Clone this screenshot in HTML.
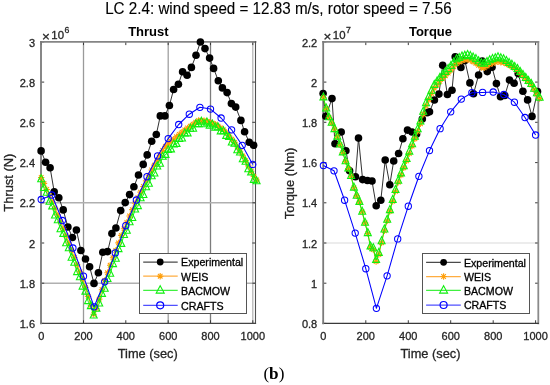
<!DOCTYPE html>
<html><head><meta charset="utf-8"><title>LC 2.4</title>
<style>html,body{margin:0;padding:0;background:#fff;}body{width:550px;height:385px;overflow:hidden;}svg{display:block;}
</style></head>
<body>
<svg width="550" height="385" viewBox="0 0 550 385">
<rect width="550" height="385" fill="#fff"/>
<line x1="83.5" y1="41.9" x2="83.5" y2="323.45" stroke="#9a9a9a" stroke-width="1.3"/>
<line x1="168.2" y1="41.9" x2="168.2" y2="323.45" stroke="#a0a0a0" stroke-width="1.3"/>
<line x1="210.5" y1="41.9" x2="210.5" y2="323.45" stroke="#7c7c7c" stroke-width="1.3"/>
<line x1="252.8" y1="41.9" x2="252.8" y2="323.45" stroke="#b5b5b5" stroke-width="1.3"/>
<line x1="41.0" y1="202.8" x2="255.5" y2="202.8" stroke="#b0b0b0" stroke-width="1.5"/>
<line x1="41.0" y1="283.2" x2="255.5" y2="283.2" stroke="#b0b0b0" stroke-width="1.5"/>
<line x1="41.2" y1="323.45" x2="41.2" y2="320.25" stroke="#3a3a3a" stroke-width="1"/>
<line x1="41.2" y1="41.9" x2="41.2" y2="45.1" stroke="#3a3a3a" stroke-width="1"/>
<line x1="83.5" y1="323.45" x2="83.5" y2="320.25" stroke="#3a3a3a" stroke-width="1"/>
<line x1="83.5" y1="41.9" x2="83.5" y2="45.1" stroke="#3a3a3a" stroke-width="1"/>
<line x1="125.8" y1="323.45" x2="125.8" y2="320.25" stroke="#3a3a3a" stroke-width="1"/>
<line x1="125.8" y1="41.9" x2="125.8" y2="45.1" stroke="#3a3a3a" stroke-width="1"/>
<line x1="168.2" y1="323.45" x2="168.2" y2="320.25" stroke="#3a3a3a" stroke-width="1"/>
<line x1="168.2" y1="41.9" x2="168.2" y2="45.1" stroke="#3a3a3a" stroke-width="1"/>
<line x1="210.5" y1="323.45" x2="210.5" y2="320.25" stroke="#3a3a3a" stroke-width="1"/>
<line x1="210.5" y1="41.9" x2="210.5" y2="45.1" stroke="#3a3a3a" stroke-width="1"/>
<line x1="252.8" y1="323.45" x2="252.8" y2="320.25" stroke="#3a3a3a" stroke-width="1"/>
<line x1="252.8" y1="41.9" x2="252.8" y2="45.1" stroke="#3a3a3a" stroke-width="1"/>
<line x1="41.0" y1="323.4" x2="44.2" y2="323.4" stroke="#3a3a3a" stroke-width="1"/>
<line x1="255.5" y1="323.4" x2="252.3" y2="323.4" stroke="#3a3a3a" stroke-width="1"/>
<line x1="41.0" y1="283.2" x2="44.2" y2="283.2" stroke="#3a3a3a" stroke-width="1"/>
<line x1="255.5" y1="283.2" x2="252.3" y2="283.2" stroke="#3a3a3a" stroke-width="1"/>
<line x1="41.0" y1="243" x2="44.2" y2="243" stroke="#3a3a3a" stroke-width="1"/>
<line x1="255.5" y1="243" x2="252.3" y2="243" stroke="#3a3a3a" stroke-width="1"/>
<line x1="41.0" y1="202.8" x2="44.2" y2="202.8" stroke="#3a3a3a" stroke-width="1"/>
<line x1="255.5" y1="202.8" x2="252.3" y2="202.8" stroke="#3a3a3a" stroke-width="1"/>
<line x1="41.0" y1="162.6" x2="44.2" y2="162.6" stroke="#3a3a3a" stroke-width="1"/>
<line x1="255.5" y1="162.6" x2="252.3" y2="162.6" stroke="#3a3a3a" stroke-width="1"/>
<line x1="41.0" y1="122.3" x2="44.2" y2="122.3" stroke="#3a3a3a" stroke-width="1"/>
<line x1="255.5" y1="122.3" x2="252.3" y2="122.3" stroke="#3a3a3a" stroke-width="1"/>
<line x1="41.0" y1="82.1" x2="44.2" y2="82.1" stroke="#3a3a3a" stroke-width="1"/>
<line x1="255.5" y1="82.1" x2="252.3" y2="82.1" stroke="#3a3a3a" stroke-width="1"/>
<line x1="41.0" y1="41.9" x2="44.2" y2="41.9" stroke="#3a3a3a" stroke-width="1"/>
<line x1="255.5" y1="41.9" x2="252.3" y2="41.9" stroke="#3a3a3a" stroke-width="1"/>
<line x1="41" y1="41.9" x2="255.5" y2="41.9" stroke="#858585" stroke-width="1.8" stroke-linecap="square"/>
<line x1="255.5" y1="41.9" x2="255.5" y2="323.4" stroke="#505050" stroke-width="1.1" stroke-linecap="square"/>
<line x1="41" y1="323.4" x2="255.5" y2="323.4" stroke="#454545" stroke-width="1.2" stroke-linecap="square"/>
<line x1="41" y1="41.9" x2="41" y2="323.4" stroke="#7a7a7a" stroke-width="1.8" stroke-linecap="square"/>
<line x1="323.2" y1="243" x2="538.3" y2="243" stroke="#e6e6e6" stroke-width="1.5"/>
<line x1="323.4" y1="323.45" x2="323.4" y2="320.25" stroke="#3a3a3a" stroke-width="1"/>
<line x1="323.4" y1="41.9" x2="323.4" y2="45.1" stroke="#3a3a3a" stroke-width="1"/>
<line x1="365.8" y1="323.45" x2="365.8" y2="320.25" stroke="#3a3a3a" stroke-width="1"/>
<line x1="365.8" y1="41.9" x2="365.8" y2="45.1" stroke="#3a3a3a" stroke-width="1"/>
<line x1="408.3" y1="323.45" x2="408.3" y2="320.25" stroke="#3a3a3a" stroke-width="1"/>
<line x1="408.3" y1="41.9" x2="408.3" y2="45.1" stroke="#3a3a3a" stroke-width="1"/>
<line x1="450.7" y1="323.45" x2="450.7" y2="320.25" stroke="#3a3a3a" stroke-width="1"/>
<line x1="450.7" y1="41.9" x2="450.7" y2="45.1" stroke="#3a3a3a" stroke-width="1"/>
<line x1="493.2" y1="323.45" x2="493.2" y2="320.25" stroke="#3a3a3a" stroke-width="1"/>
<line x1="493.2" y1="41.9" x2="493.2" y2="45.1" stroke="#3a3a3a" stroke-width="1"/>
<line x1="535.6" y1="323.45" x2="535.6" y2="320.25" stroke="#3a3a3a" stroke-width="1"/>
<line x1="535.6" y1="41.9" x2="535.6" y2="45.1" stroke="#3a3a3a" stroke-width="1"/>
<line x1="323.2" y1="323.4" x2="326.4" y2="323.4" stroke="#3a3a3a" stroke-width="1"/>
<line x1="538.3" y1="323.4" x2="535.0999999999999" y2="323.4" stroke="#3a3a3a" stroke-width="1"/>
<line x1="323.2" y1="283.2" x2="326.4" y2="283.2" stroke="#3a3a3a" stroke-width="1"/>
<line x1="538.3" y1="283.2" x2="535.0999999999999" y2="283.2" stroke="#3a3a3a" stroke-width="1"/>
<line x1="323.2" y1="243" x2="326.4" y2="243" stroke="#3a3a3a" stroke-width="1"/>
<line x1="538.3" y1="243" x2="535.0999999999999" y2="243" stroke="#3a3a3a" stroke-width="1"/>
<line x1="323.2" y1="202.8" x2="326.4" y2="202.8" stroke="#3a3a3a" stroke-width="1"/>
<line x1="538.3" y1="202.8" x2="535.0999999999999" y2="202.8" stroke="#3a3a3a" stroke-width="1"/>
<line x1="323.2" y1="162.6" x2="326.4" y2="162.6" stroke="#3a3a3a" stroke-width="1"/>
<line x1="538.3" y1="162.6" x2="535.0999999999999" y2="162.6" stroke="#3a3a3a" stroke-width="1"/>
<line x1="323.2" y1="122.3" x2="326.4" y2="122.3" stroke="#3a3a3a" stroke-width="1"/>
<line x1="538.3" y1="122.3" x2="535.0999999999999" y2="122.3" stroke="#3a3a3a" stroke-width="1"/>
<line x1="323.2" y1="82.1" x2="326.4" y2="82.1" stroke="#3a3a3a" stroke-width="1"/>
<line x1="538.3" y1="82.1" x2="535.0999999999999" y2="82.1" stroke="#3a3a3a" stroke-width="1"/>
<line x1="323.2" y1="41.9" x2="326.4" y2="41.9" stroke="#3a3a3a" stroke-width="1"/>
<line x1="538.3" y1="41.9" x2="535.0999999999999" y2="41.9" stroke="#3a3a3a" stroke-width="1"/>
<line x1="323.2" y1="41.9" x2="538.3" y2="41.9" stroke="#858585" stroke-width="1.8" stroke-linecap="square"/>
<line x1="538.3" y1="41.9" x2="538.3" y2="323.4" stroke="#8a8a8a" stroke-width="1.8" stroke-linecap="square"/>
<line x1="323.2" y1="323.4" x2="538.3" y2="323.4" stroke="#3a3a3a" stroke-width="1.2" stroke-linecap="square"/>
<line x1="323.2" y1="41.9" x2="323.2" y2="323.4" stroke="#7a7a7a" stroke-width="1.8" stroke-linecap="square"/>
<g>
<polyline fill="none" stroke="#1a1a1a" stroke-width="0.9" stroke-linejoin="round" points="41.1,150.9 45.6,162.3 50.1,167.8 54.2,191.7 58.8,197.7 63.2,209.9 67.9,227 72.4,237.5 76.4,230 80.9,250.5 85.5,259 89.6,266.7 94,283.4 98.4,272.8 102.8,252.2 107.6,251.6 111.9,233.6 115.9,228 120.7,210.6 125.2,202.6 129.6,194.6 133.9,186.8 138.5,175 143.2,164.4 147.2,154.9 151.7,141.3 156.3,134.5 160.3,115.9 164.9,115.9 169.4,105.5 173.6,89.5 178.4,84.3 182.6,71.7 187.1,75.3 191.4,67.4 196,55.3 200.4,42 205,48.6 209.6,58.1 213.6,68.4 218.3,80.7 222.4,87.9 227.1,92.6 231.4,103.6 235.7,107.1 240.9,120.4 244.6,131.8 249.2,142.2 253.6,145.3"/>
<g fill="#000"><circle cx="41.1" cy="150.9" r="3.8"/><circle cx="45.6" cy="162.3" r="3.8"/><circle cx="50.1" cy="167.8" r="3.8"/><circle cx="54.2" cy="191.7" r="3.8"/><circle cx="58.8" cy="197.7" r="3.8"/><circle cx="63.2" cy="209.9" r="3.8"/><circle cx="67.9" cy="227" r="3.8"/><circle cx="72.4" cy="237.5" r="3.8"/><circle cx="76.4" cy="230" r="3.8"/><circle cx="80.9" cy="250.5" r="3.8"/><circle cx="85.5" cy="259" r="3.8"/><circle cx="89.6" cy="266.7" r="3.8"/><circle cx="94" cy="283.4" r="3.8"/><circle cx="98.4" cy="272.8" r="3.8"/><circle cx="102.8" cy="252.2" r="3.8"/><circle cx="107.6" cy="251.6" r="3.8"/><circle cx="111.9" cy="233.6" r="3.8"/><circle cx="115.9" cy="228" r="3.8"/><circle cx="120.7" cy="210.6" r="3.8"/><circle cx="125.2" cy="202.6" r="3.8"/><circle cx="129.6" cy="194.6" r="3.8"/><circle cx="133.9" cy="186.8" r="3.8"/><circle cx="138.5" cy="175" r="3.8"/><circle cx="143.2" cy="164.4" r="3.8"/><circle cx="147.2" cy="154.9" r="3.8"/><circle cx="151.7" cy="141.3" r="3.8"/><circle cx="156.3" cy="134.5" r="3.8"/><circle cx="160.3" cy="115.9" r="3.8"/><circle cx="164.9" cy="115.9" r="3.8"/><circle cx="169.4" cy="105.5" r="3.8"/><circle cx="173.6" cy="89.5" r="3.8"/><circle cx="178.4" cy="84.3" r="3.8"/><circle cx="182.6" cy="71.7" r="3.8"/><circle cx="187.1" cy="75.3" r="3.8"/><circle cx="191.4" cy="67.4" r="3.8"/><circle cx="196" cy="55.3" r="3.8"/><circle cx="200.4" cy="42" r="3.8"/><circle cx="205" cy="48.6" r="3.8"/><circle cx="209.6" cy="58.1" r="3.8"/><circle cx="213.6" cy="68.4" r="3.8"/><circle cx="218.3" cy="80.7" r="3.8"/><circle cx="222.4" cy="87.9" r="3.8"/><circle cx="227.1" cy="92.6" r="3.8"/><circle cx="231.4" cy="103.6" r="3.8"/><circle cx="235.7" cy="107.1" r="3.8"/><circle cx="240.9" cy="120.4" r="3.8"/><circle cx="244.6" cy="131.8" r="3.8"/><circle cx="249.2" cy="142.2" r="3.8"/><circle cx="253.6" cy="145.3" r="3.8"/></g>
<polyline fill="none" stroke="#ff9f0a" stroke-width="1" stroke-linejoin="round" points="41.2,177.5 44,183.4 46.7,189.5 49.5,195.6 52.2,201.7 55,208.1 57.8,214.9 60.5,221.8 63.3,228.6 66.1,235.8 68.8,243 71.6,250.2 74.3,257.5 77.1,264.7 79.9,271.9 82.6,279.2 85.4,287.4 88.1,296.4 90.9,305.3 93.7,314.2 96.4,308.5 99.2,299.1 102,289.7 104.7,280.4 107.5,272.8 110.2,265.3 113,257.8 115.8,250.4 118.5,242.9 121.3,235.4 124,228.8 126.8,222.4 129.6,216 132.3,209.6 135.1,203.3 137.9,197.7 140.6,192.1 143.4,186.5 146.1,180.9 148.9,175.3 151.7,170 154.4,165.1 157.2,160.2 160,155.4 162.7,150.5 165.5,146.4 168.2,143.7 171,141.4 173.8,139.1 176.5,136.8 179.3,134.5 182,132.2 184.8,130 187.6,128.1 190.3,126.2 193.1,124.2 195.9,122.3 198.6,120.4 201.4,120.5 204.1,120.7 206.9,121.4 209.7,122.3 212.4,123.2 215.2,124.1 217.9,126.1 220.7,128 223.5,129.9 226.2,132.5 229,135.8 231.8,139.1 234.5,142.4 237.3,146.8 240,151.3 242.8,155.9 245.6,160.6 248.3,165.9 251.1,171.2 253.8,176.4 256.6,180"/>
<g fill="none" stroke="#ff9f0a" stroke-width="1.1"><path d="M41.2 174.3V180.7M38 177.5H44.4M38.9 175.2L43.5 179.8M38.9 179.8L43.5 175.2"/><path d="M44 180.2V186.6M40.8 183.4H47.2M41.7 181.1L46.3 185.7M41.7 185.7L46.3 181.1"/><path d="M46.7 186.3V192.7M43.5 189.5H49.9M44.4 187.2L49 191.8M44.4 191.8L49 187.2"/><path d="M49.5 192.4V198.8M46.3 195.6H52.7M47.2 193.3L51.8 197.9M47.2 197.9L51.8 193.3"/><path d="M52.2 198.5V204.9M49 201.7H55.4M49.9 199.4L54.6 204M49.9 204L54.6 199.4"/><path d="M55 204.9V211.3M51.8 208.1H58.2M52.7 205.8L57.3 210.4M52.7 210.4L57.3 205.8"/><path d="M57.8 211.7V218.1M54.6 214.9H61M55.5 212.6L60.1 217.2M55.5 217.2L60.1 212.6"/><path d="M60.5 218.6V225M57.3 221.8H63.7M58.2 219.5L62.8 224.1M58.2 224.1L62.8 219.5"/><path d="M63.3 225.4V231.8M60.1 228.6H66.5M61 226.3L65.6 231M61 231L65.6 226.3"/><path d="M66.1 232.6V239M62.9 235.8H69.3M63.8 233.5L68.4 238.1M63.8 238.1L68.4 233.5"/><path d="M68.8 239.8V246.2M65.6 243H72M66.5 240.7L71.1 245.3M66.5 245.3L71.1 240.7"/><path d="M71.6 247V253.4M68.4 250.2H74.8M69.3 247.9L73.9 252.5M69.3 252.5L73.9 247.9"/><path d="M74.3 254.3V260.7M71.1 257.5H77.5M72 255.2L76.6 259.8M72 259.8L76.6 255.2"/><path d="M77.1 261.5V267.9M73.9 264.7H80.3M74.8 262.4L79.4 267M74.8 267L79.4 262.4"/><path d="M79.9 268.7V275.1M76.7 271.9H83.1M77.6 269.6L82.2 274.2M77.6 274.2L82.2 269.6"/><path d="M82.6 276V282.4M79.4 279.2H85.8M80.3 276.9L84.9 281.5M80.3 281.5L84.9 276.9"/><path d="M85.4 284.2V290.6M82.2 287.4H88.6M83.1 285.1L87.7 289.8M83.1 289.8L87.7 285.1"/><path d="M88.1 293.2V299.6M84.9 296.4H91.3M85.8 294.1L90.5 298.7M85.8 298.7L90.5 294.1"/><path d="M90.9 302.1V308.5M87.7 305.3H94.1M88.6 303L93.2 307.6M88.6 307.6L93.2 303"/><path d="M93.7 311V317.4M90.5 314.2H96.9M91.4 311.9L96 316.5M91.4 316.5L96 311.9"/><path d="M96.4 305.3V311.7M93.2 308.5H99.6M94.1 306.2L98.7 310.8M94.1 310.8L98.7 306.2"/><path d="M99.2 295.9V302.3M96 299.1H102.4M96.9 296.8L101.5 301.4M96.9 301.4L101.5 296.8"/><path d="M102 286.5V292.9M98.8 289.7H105.2M99.7 287.4L104.3 292M99.7 292L104.3 287.4"/><path d="M104.7 277.2V283.6M101.5 280.4H107.9M102.4 278.1L107 282.7M102.4 282.7L107 278.1"/><path d="M107.5 269.6V276M104.3 272.8H110.7M105.2 270.5L109.8 275.1M105.2 275.1L109.8 270.5"/><path d="M110.2 262.1V268.5M107 265.3H113.4M107.9 263L112.5 267.6M107.9 267.6L112.5 263"/><path d="M113 254.6V261M109.8 257.8H116.2M110.7 255.5L115.3 260.1M110.7 260.1L115.3 255.5"/><path d="M115.8 247.2V253.6M112.6 250.4H119M113.5 248.1L118.1 252.7M113.5 252.7L118.1 248.1"/><path d="M118.5 239.7V246.1M115.3 242.9H121.7M116.2 240.6L120.8 245.2M116.2 245.2L120.8 240.6"/><path d="M121.3 232.2V238.6M118.1 235.4H124.5M119 233.1L123.6 237.7M119 237.7L123.6 233.1"/><path d="M124 225.6V232M120.8 228.8H127.2M121.7 226.5L126.4 231.1M121.7 231.1L126.4 226.5"/><path d="M126.8 219.2V225.6M123.6 222.4H130M124.5 220.1L129.1 224.7M124.5 224.7L129.1 220.1"/><path d="M129.6 212.8V219.2M126.4 216H132.8M127.3 213.7L131.9 218.3M127.3 218.3L131.9 213.7"/><path d="M132.3 206.4V212.8M129.1 209.6H135.5M130 207.3L134.6 211.9M130 211.9L134.6 207.3"/><path d="M135.1 200.1V206.5M131.9 203.3H138.3M132.8 201L137.4 205.6M132.8 205.6L137.4 201"/><path d="M137.9 194.5V200.9M134.7 197.7H141.1M135.6 195.4L140.2 200M135.6 200L140.2 195.4"/><path d="M140.6 188.9V195.3M137.4 192.1H143.8M138.3 189.8L142.9 194.4M138.3 194.4L142.9 189.8"/><path d="M143.4 183.3V189.7M140.2 186.5H146.6M141.1 184.2L145.7 188.8M141.1 188.8L145.7 184.2"/><path d="M146.1 177.7V184.1M142.9 180.9H149.3M143.8 178.6L148.4 183.2M143.8 183.2L148.4 178.6"/><path d="M148.9 172.1V178.5M145.7 175.3H152.1M146.6 173L151.2 177.6M146.6 177.6L151.2 173"/><path d="M151.7 166.8V173.2M148.5 170H154.9M149.4 167.7L154 172.3M149.4 172.3L154 167.7"/><path d="M154.4 161.9V168.3M151.2 165.1H157.6M152.1 162.8L156.7 167.4M152.1 167.4L156.7 162.8"/><path d="M157.2 157V163.4M154 160.2H160.4M154.9 157.9L159.5 162.5M154.9 162.5L159.5 157.9"/><path d="M160 152.2V158.6M156.8 155.4H163.2M157.6 153L162.3 157.7M157.6 157.7L162.3 153"/><path d="M162.7 147.3V153.7M159.5 150.5H165.9M160.4 148.2L165 152.8M160.4 152.8L165 148.2"/><path d="M165.5 143.2V149.6M162.3 146.4H168.7M163.2 144.1L167.8 148.7M163.2 148.7L167.8 144.1"/><path d="M168.2 140.5V146.9M165 143.7H171.4M165.9 141.4L170.5 146M165.9 146L170.5 141.4"/><path d="M171 138.2V144.6M167.8 141.4H174.2M168.7 139L173.3 143.7M168.7 143.7L173.3 139"/><path d="M173.8 135.9V142.3M170.6 139.1H177M171.5 136.8L176.1 141.4M171.5 141.4L176.1 136.8"/><path d="M176.5 133.6V140M173.3 136.8H179.7M174.2 134.5L178.8 139.1M174.2 139.1L178.8 134.5"/><path d="M179.3 131.3V137.7M176.1 134.5H182.5M177 132.2L181.6 136.8M177 136.8L181.6 132.2"/><path d="M182 129V135.4M178.8 132.2H185.2M179.7 129.9L184.3 134.5M179.7 134.5L184.3 129.9"/><path d="M184.8 126.8V133.2M181.6 130H188M182.5 127.6L187.1 132.3M182.5 132.3L187.1 127.6"/><path d="M187.6 124.9V131.3M184.4 128.1H190.8M185.3 125.7L189.9 130.4M185.3 130.4L189.9 125.7"/><path d="M190.3 123V129.4M187.1 126.2H193.5M188 123.9L192.6 128.5M188 128.5L192.6 123.9"/><path d="M193.1 121V127.4M189.9 124.2H196.3M190.8 121.9L195.4 126.5M190.8 126.5L195.4 121.9"/><path d="M195.9 119.1V125.5M192.7 122.3H199.1M193.5 120L198.2 124.6M193.5 124.6L198.2 120"/><path d="M198.6 117.2V123.6M195.4 120.4H201.8M196.3 118.1L200.9 122.7M196.3 122.7L200.9 118.1"/><path d="M201.4 117.3V123.7M198.2 120.5H204.6M199.1 118.2L203.7 122.8M199.1 122.8L203.7 118.2"/><path d="M204.1 117.5V123.9M200.9 120.7H207.3M201.8 118.4L206.4 123M201.8 123L206.4 118.4"/><path d="M206.9 118.2V124.6M203.7 121.4H210.1M204.6 119.1L209.2 123.7M204.6 123.7L209.2 119.1"/><path d="M209.7 119.1V125.5M206.5 122.3H212.9M207.4 120L212 124.6M207.4 124.6L212 120"/><path d="M212.4 120V126.4M209.2 123.2H215.6M210.1 120.9L214.7 125.5M210.1 125.5L214.7 120.9"/><path d="M215.2 120.9V127.3M212 124.1H218.4M212.9 121.8L217.5 126.4M212.9 126.4L217.5 121.8"/><path d="M217.9 122.9V129.3M214.7 126.1H221.1M215.6 123.8L220.2 128.4M215.6 128.4L220.2 123.8"/><path d="M220.7 124.8V131.2M217.5 128H223.9M218.4 125.7L223 130.3M218.4 130.3L223 125.7"/><path d="M223.5 126.7V133.1M220.3 129.9H226.7M221.2 127.6L225.8 132.2M221.2 132.2L225.8 127.6"/><path d="M226.2 129.3V135.7M223 132.5H229.4M223.9 130.2L228.5 134.8M223.9 134.8L228.5 130.2"/><path d="M229 132.6V139M225.8 135.8H232.2M226.7 133.5L231.3 138.1M226.7 138.1L231.3 133.5"/><path d="M231.8 135.9V142.3M228.6 139.1H235M229.4 136.8L234.1 141.4M229.4 141.4L234.1 136.8"/><path d="M234.5 139.2V145.6M231.3 142.4H237.7M232.2 140.1L236.8 144.7M232.2 144.7L236.8 140.1"/><path d="M237.3 143.6V150M234.1 146.8H240.5M235 144.5L239.6 149.1M235 149.1L239.6 144.5"/><path d="M240 148.1V154.5M236.8 151.3H243.2M237.7 149L242.3 153.6M237.7 153.6L242.3 149"/><path d="M242.8 152.7V159.1M239.6 155.9H246M240.5 153.6L245.1 158.2M240.5 158.2L245.1 153.6"/><path d="M245.6 157.4V163.8M242.4 160.6H248.8M243.3 158.3L247.9 162.9M243.3 162.9L247.9 158.3"/><path d="M248.3 162.7V169.1M245.1 165.9H251.5M246 163.6L250.6 168.2M246 168.2L250.6 163.6"/><path d="M251.1 168V174.4M247.9 171.2H254.3M248.8 168.8L253.4 173.5M248.8 173.5L253.4 168.8"/><path d="M253.8 173.2V179.6M250.6 176.4H257M251.5 174.1L256.2 178.7M251.5 178.7L256.2 174.1"/><path d="M256.6 176.8V183.2M253.4 180H259.8M254.3 177.7L258.9 182.3M254.3 182.3L258.9 177.7"/></g>
<polyline fill="none" stroke="#0ff00f" stroke-width="1" stroke-linejoin="round" points="41.2,179.4 44,188.2 46.7,192.9 49.5,201.9 52.2,206.6 55,215.7 57.8,220.3 60.5,229.4 63.3,234 66.1,243.4 68.8,248.4 71.6,257.8 74.3,262.9 77.1,272.3 79.9,277.3 82.6,286.8 85.4,291.8 88.1,301.2 90.9,306.3 93.7,315.7 96.4,308.9 99.2,303.7 102,294 104.7,288.8 107.5,279.2 110.2,273.9 113,264.2 115.8,259 118.5,249.3 121.3,244 124,235.2 126.8,231 129.6,222.4 132.3,218.2 135.1,209.7 137.9,206.3 140.6,198.5 143.4,195.1 146.1,187.3 148.9,183.9 151.7,176.4 154.4,173.7 157.2,166.6 160,164 162.7,156.9 165.5,155 168.2,150.1 171,149.6 173.8,144.6 176.5,144.1 179.3,139.2 182,138.6 184.8,133.7 187.6,133.5 190.3,129 193.1,128.9 195.9,124.4 198.6,124.2 201.4,121.9 204.1,124.3 206.9,122.8 209.7,125.9 212.4,124.6 215.2,127.7 217.9,127.5 220.7,131.6 223.5,131.3 226.2,136.1 229,137.2 231.8,142.7 234.5,143.8 237.3,150.4 240,152.7 242.8,159.5 245.6,162 248.3,169.5 251.1,172.6 253.8,180 256.6,181.4"/>
<g fill="none" stroke="#0ff00f" stroke-width="1.1"><path d="M41.2 174.7L44.7 181.7L37.7 181.7Z"/><path d="M44 183.5L47.5 190.5L40.5 190.5Z"/><path d="M46.7 188.2L50.2 195.2L43.2 195.2Z"/><path d="M49.5 197.3L53 204.3L46 204.3Z"/><path d="M52.2 201.9L55.7 208.9L48.7 208.9Z"/><path d="M55 211L58.5 218L51.5 218Z"/><path d="M57.8 215.7L61.3 222.7L54.3 222.7Z"/><path d="M60.5 224.7L64 231.7L57 231.7Z"/><path d="M63.3 229.4L66.8 236.4L59.8 236.4Z"/><path d="M66.1 238.7L69.6 245.7L62.6 245.7Z"/><path d="M68.8 243.7L72.3 250.7L65.3 250.7Z"/><path d="M71.6 253.2L75.1 260.2L68.1 260.2Z"/><path d="M74.3 258.2L77.8 265.2L70.8 265.2Z"/><path d="M77.1 267.6L80.6 274.6L73.6 274.6Z"/><path d="M79.9 272.7L83.4 279.7L76.4 279.7Z"/><path d="M82.6 282.1L86.1 289.1L79.1 289.1Z"/><path d="M85.4 287.1L88.9 294.1L81.9 294.1Z"/><path d="M88.1 296.6L91.6 303.6L84.6 303.6Z"/><path d="M90.9 301.6L94.4 308.6L87.4 308.6Z"/><path d="M93.7 311L97.2 318L90.2 318Z"/><path d="M96.4 304.2L99.9 311.2L92.9 311.2Z"/><path d="M99.2 299L102.7 306L95.7 306Z"/><path d="M102 289.4L105.5 296.4L98.5 296.4Z"/><path d="M104.7 284.2L108.2 291.2L101.2 291.2Z"/><path d="M107.5 274.5L111 281.5L104 281.5Z"/><path d="M110.2 269.2L113.7 276.2L106.7 276.2Z"/><path d="M113 259.6L116.5 266.6L109.5 266.6Z"/><path d="M115.8 254.3L119.3 261.3L112.3 261.3Z"/><path d="M118.5 244.6L122 251.6L115 251.6Z"/><path d="M121.3 239.4L124.8 246.4L117.8 246.4Z"/><path d="M124 230.5L127.5 237.5L120.5 237.5Z"/><path d="M126.8 226.3L130.3 233.3L123.3 233.3Z"/><path d="M129.6 217.7L133.1 224.7L126.1 224.7Z"/><path d="M132.3 213.5L135.8 220.5L128.8 220.5Z"/><path d="M135.1 205L138.6 212L131.6 212Z"/><path d="M137.9 201.6L141.4 208.6L134.4 208.6Z"/><path d="M140.6 193.8L144.1 200.8L137.1 200.8Z"/><path d="M143.4 190.5L146.9 197.5L139.9 197.5Z"/><path d="M146.1 182.7L149.6 189.7L142.6 189.7Z"/><path d="M148.9 179.3L152.4 186.3L145.4 186.3Z"/><path d="M151.7 171.7L155.2 178.7L148.2 178.7Z"/><path d="M154.4 169L157.9 176L150.9 176Z"/><path d="M157.2 162L160.7 169L153.7 169Z"/><path d="M160 159.3L163.5 166.3L156.5 166.3Z"/><path d="M162.7 152.2L166.2 159.2L159.2 159.2Z"/><path d="M165.5 150.4L169 157.4L162 157.4Z"/><path d="M168.2 145.4L171.7 152.4L164.7 152.4Z"/><path d="M171 144.9L174.5 151.9L167.5 151.9Z"/><path d="M173.8 140L177.3 147L170.3 147Z"/><path d="M176.5 139.4L180 146.4L173 146.4Z"/><path d="M179.3 134.5L182.8 141.5L175.8 141.5Z"/><path d="M182 134L185.5 141L178.5 141Z"/><path d="M184.8 129L188.3 136L181.3 136Z"/><path d="M187.6 128.9L191.1 135.9L184.1 135.9Z"/><path d="M190.3 124.3L193.8 131.3L186.8 131.3Z"/><path d="M193.1 124.2L196.6 131.2L189.6 131.2Z"/><path d="M195.9 119.7L199.4 126.7L192.4 126.7Z"/><path d="M198.6 119.6L202.1 126.6L195.1 126.6Z"/><path d="M201.4 117.2L204.9 124.2L197.9 124.2Z"/><path d="M204.1 119.7L207.6 126.7L200.6 126.7Z"/><path d="M206.9 118.1L210.4 125.1L203.4 125.1Z"/><path d="M209.7 121.2L213.2 128.2L206.2 128.2Z"/><path d="M212.4 119.9L215.9 126.9L208.9 126.9Z"/><path d="M215.2 123.1L218.7 130.1L211.7 130.1Z"/><path d="M217.9 122.8L221.4 129.8L214.4 129.8Z"/><path d="M220.7 126.9L224.2 133.9L217.2 133.9Z"/><path d="M223.5 126.7L227 133.7L220 133.7Z"/><path d="M226.2 131.4L229.7 138.4L222.7 138.4Z"/><path d="M229 132.5L232.5 139.5L225.5 139.5Z"/><path d="M231.8 138L235.3 145L228.3 145Z"/><path d="M234.5 139.2L238 146.2L231 146.2Z"/><path d="M237.3 145.7L240.8 152.7L233.8 152.7Z"/><path d="M240 148L243.5 155L236.5 155Z"/><path d="M242.8 154.8L246.3 161.8L239.3 161.8Z"/><path d="M245.6 157.3L249.1 164.3L242.1 164.3Z"/><path d="M248.3 164.8L251.8 171.8L244.8 171.8Z"/><path d="M251.1 167.9L254.6 174.9L247.6 174.9Z"/><path d="M253.8 175.4L257.3 182.4L250.3 182.4Z"/><path d="M256.6 176.7L260.1 183.7L253.1 183.7Z"/></g>
<polyline fill="none" stroke="#0000ff" stroke-width="1.05" stroke-linejoin="round" points="41.2,199.5 51.8,195 62.4,220.5 72.9,248 83.5,276.2 94.1,306.8 104.7,281.8 115.3,252.9 125.8,225.7 136.4,200 147,176.7 157.6,155.9 168.2,138.6 178.7,124.5 189.3,114.2 199.9,107.3 210.5,109.1 221.1,118 231.6,129.8 242.2,145.3 252.8,164.4"/>
<g fill="none" stroke="#0000ff" stroke-width="1.05"><circle cx="41.2" cy="199.5" r="3.15"/><circle cx="51.8" cy="195" r="3.15"/><circle cx="62.4" cy="220.5" r="3.15"/><circle cx="72.9" cy="248" r="3.15"/><circle cx="83.5" cy="276.2" r="3.15"/><circle cx="94.1" cy="306.8" r="3.15"/><circle cx="104.7" cy="281.8" r="3.15"/><circle cx="115.3" cy="252.9" r="3.15"/><circle cx="125.8" cy="225.7" r="3.15"/><circle cx="136.4" cy="200" r="3.15"/><circle cx="147" cy="176.7" r="3.15"/><circle cx="157.6" cy="155.9" r="3.15"/><circle cx="168.2" cy="138.6" r="3.15"/><circle cx="178.7" cy="124.5" r="3.15"/><circle cx="189.3" cy="114.2" r="3.15"/><circle cx="199.9" cy="107.3" r="3.15"/><circle cx="210.5" cy="109.1" r="3.15"/><circle cx="221.1" cy="118" r="3.15"/><circle cx="231.6" cy="129.8" r="3.15"/><circle cx="242.2" cy="145.3" r="3.15"/><circle cx="252.8" cy="164.4" r="3.15"/></g>
</g>
<g>
<polyline fill="none" stroke="#1a1a1a" stroke-width="0.9" stroke-linejoin="round" points="323.1,93.6 325.8,116.2 332,98.6 335,143.7 341.2,132 345.9,150.7 349.6,170.8 355.5,176.7 358.5,138.1 362.6,179.6 367.4,180.5 372,181 376.2,205.7 380.8,200.3 385.2,160 389.8,184.7 393.7,161 398.6,153.5 402.9,138.8 407.5,130.1 412,132 416.6,134 422.3,119 427.1,112.7 429.5,111.8 434.4,100 438.9,94.1 442.7,65.2 447.4,94.5 452,90.2 455.2,56.7 460.9,67.4 464.9,60.6 469.9,82.9 473.5,93.8 478.6,75 482.3,61 487.3,71.6 492,67.2 496.4,83.6 500.5,96.8 504.8,95.5 509.5,80 514.1,83.2 518.2,73.6 522.9,91.2 527.6,99.9 532,116.4 537.5,91.5"/>
<g fill="#000"><circle cx="323.1" cy="93.6" r="3.8"/><circle cx="325.8" cy="116.2" r="3.8"/><circle cx="332" cy="98.6" r="3.8"/><circle cx="335" cy="143.7" r="3.8"/><circle cx="341.2" cy="132" r="3.8"/><circle cx="345.9" cy="150.7" r="3.8"/><circle cx="349.6" cy="170.8" r="3.8"/><circle cx="355.5" cy="176.7" r="3.8"/><circle cx="358.5" cy="138.1" r="3.8"/><circle cx="362.6" cy="179.6" r="3.8"/><circle cx="367.4" cy="180.5" r="3.8"/><circle cx="372" cy="181" r="3.8"/><circle cx="376.2" cy="205.7" r="3.8"/><circle cx="380.8" cy="200.3" r="3.8"/><circle cx="385.2" cy="160" r="3.8"/><circle cx="389.8" cy="184.7" r="3.8"/><circle cx="393.7" cy="161" r="3.8"/><circle cx="398.6" cy="153.5" r="3.8"/><circle cx="402.9" cy="138.8" r="3.8"/><circle cx="407.5" cy="130.1" r="3.8"/><circle cx="412" cy="132" r="3.8"/><circle cx="416.6" cy="134" r="3.8"/><circle cx="422.3" cy="119" r="3.8"/><circle cx="427.1" cy="112.7" r="3.8"/><circle cx="429.5" cy="111.8" r="3.8"/><circle cx="434.4" cy="100" r="3.8"/><circle cx="438.9" cy="94.1" r="3.8"/><circle cx="442.7" cy="65.2" r="3.8"/><circle cx="447.4" cy="94.5" r="3.8"/><circle cx="452" cy="90.2" r="3.8"/><circle cx="455.2" cy="56.7" r="3.8"/><circle cx="460.9" cy="67.4" r="3.8"/><circle cx="464.9" cy="60.6" r="3.8"/><circle cx="469.9" cy="82.9" r="3.8"/><circle cx="473.5" cy="93.8" r="3.8"/><circle cx="478.6" cy="75" r="3.8"/><circle cx="482.3" cy="61" r="3.8"/><circle cx="487.3" cy="71.6" r="3.8"/><circle cx="492" cy="67.2" r="3.8"/><circle cx="496.4" cy="83.6" r="3.8"/><circle cx="500.5" cy="96.8" r="3.8"/><circle cx="504.8" cy="95.5" r="3.8"/><circle cx="509.5" cy="80" r="3.8"/><circle cx="514.1" cy="83.2" r="3.8"/><circle cx="518.2" cy="73.6" r="3.8"/><circle cx="522.9" cy="91.2" r="3.8"/><circle cx="527.6" cy="99.9" r="3.8"/><circle cx="532" cy="116.4" r="3.8"/><circle cx="537.5" cy="91.5" r="3.8"/></g>
<polyline fill="none" stroke="#ff9f0a" stroke-width="1" stroke-linejoin="round" points="323.4,97.6 326.2,108.6 328.9,117.4 331.7,123 334.5,129.3 337.3,136.7 340,144.7 342.8,152.6 345.6,161.4 348.3,168.6 351.1,176.2 353.9,187.8 356.7,195.9 359.4,202.1 362.2,211.9 365,222.9 367.8,233.5 370.5,247.2 373.3,249.6 376.1,261.5 378.8,254.5 381.6,242.7 384.4,230.8 387.2,220.9 389.9,211.3 392.7,201.4 395.5,191.4 398.2,182.2 401,175.1 403.8,167.9 406.6,160.8 409.3,153.5 412.1,146.1 414.9,138.8 417.7,131.4 420.4,123.7 423.2,114.2 426,105.8 428.7,99.7 431.5,93.6 434.3,88.2 437.1,84.8 439.8,81.3 442.6,78.3 445.4,75.7 448.1,73.1 450.9,70.1 453.7,66.7 456.5,63.5 459.2,62 462,60.6 464.8,59.9 467.6,59.2 470.3,60.3 473.1,61.6 475.9,63.3 478.6,65.4 481.4,67.5 484.2,67.8 487,66.1 489.7,64.4 492.5,63.3 495.3,62.3 498,61.5 500.8,62.2 503.6,62.6 506.4,63.8 509.1,65.1 511.9,66.5 514.7,68.1 517.5,70.2 520.2,73 523,76 525.8,79 528.5,81.9 531.3,84.9 534.1,89.6 536.9,94.2 539.6,98.5"/>
<g fill="none" stroke="#ff9f0a" stroke-width="1.1"><path d="M323.4 94.4V100.8M320.2 97.6H326.6M321.1 95.3L325.7 99.9M321.1 99.9L325.7 95.3"/><path d="M326.2 105.4V111.8M323 108.6H329.4M323.9 106.3L328.5 110.9M323.9 110.9L328.5 106.3"/><path d="M328.9 114.2V120.6M325.7 117.4H332.1M326.6 115.1L331.2 119.7M326.6 119.7L331.2 115.1"/><path d="M331.7 119.8V126.2M328.5 123H334.9M329.4 120.7L334 125.3M329.4 125.3L334 120.7"/><path d="M334.5 126.1V132.5M331.3 129.3H337.7M332.2 127L336.8 131.6M332.2 131.6L336.8 127"/><path d="M337.3 133.5V139.9M334.1 136.7H340.5M335 134.4L339.6 139M335 139L339.6 134.4"/><path d="M340 141.5V147.9M336.8 144.7H343.2M337.7 142.4L342.3 147M337.7 147L342.3 142.4"/><path d="M342.8 149.4V155.8M339.6 152.6H346M340.5 150.3L345.1 154.9M340.5 154.9L345.1 150.3"/><path d="M345.6 158.2V164.6M342.4 161.4H348.8M343.3 159.1L347.9 163.7M343.3 163.7L347.9 159.1"/><path d="M348.3 165.4V171.8M345.1 168.6H351.5M346 166.3L350.7 170.9M346 170.9L350.7 166.3"/><path d="M351.1 173V179.4M347.9 176.2H354.3M348.8 173.9L353.4 178.5M348.8 178.5L353.4 173.9"/><path d="M353.9 184.6V191M350.7 187.8H357.1M351.6 185.5L356.2 190.1M351.6 190.1L356.2 185.5"/><path d="M356.7 192.7V199.1M353.5 195.9H359.9M354.4 193.6L359 198.2M354.4 198.2L359 193.6"/><path d="M359.4 198.9V205.3M356.2 202.1H362.6M357.1 199.8L361.7 204.4M357.1 204.4L361.7 199.8"/><path d="M362.2 208.7V215.1M359 211.9H365.4M359.9 209.6L364.5 214.2M359.9 214.2L364.5 209.6"/><path d="M365 219.7V226.1M361.8 222.9H368.2M362.7 220.6L367.3 225.2M362.7 225.2L367.3 220.6"/><path d="M367.8 230.3V236.7M364.6 233.5H371M365.5 231.2L370.1 235.8M365.5 235.8L370.1 231.2"/><path d="M370.5 244V250.4M367.3 247.2H373.7M368.2 244.9L372.8 249.5M368.2 249.5L372.8 244.9"/><path d="M373.3 246.4V252.8M370.1 249.6H376.5M371 247.3L375.6 251.9M371 251.9L375.6 247.3"/><path d="M376.1 258.3V264.7M372.9 261.5H379.3M373.8 259.2L378.4 263.8M373.8 263.8L378.4 259.2"/><path d="M378.8 251.3V257.7M375.6 254.5H382M376.5 252.2L381.1 256.8M376.5 256.8L381.1 252.2"/><path d="M381.6 239.5V245.9M378.4 242.7H384.8M379.3 240.4L383.9 245M379.3 245L383.9 240.4"/><path d="M384.4 227.6V234M381.2 230.8H387.6M382.1 228.5L386.7 233.1M382.1 233.1L386.7 228.5"/><path d="M387.2 217.7V224.1M384 220.9H390.4M384.9 218.6L389.5 223.2M384.9 223.2L389.5 218.6"/><path d="M389.9 208.1V214.5M386.7 211.3H393.1M387.6 209L392.2 213.6M387.6 213.6L392.2 209"/><path d="M392.7 198.2V204.6M389.5 201.4H395.9M390.4 199.1L395 203.7M390.4 203.7L395 199.1"/><path d="M395.5 188.2V194.6M392.3 191.4H398.7M393.2 189.1L397.8 193.7M393.2 193.7L397.8 189.1"/><path d="M398.2 179V185.4M395 182.2H401.4M395.9 179.9L400.6 184.5M395.9 184.5L400.6 179.9"/><path d="M401 171.9V178.3M397.8 175.1H404.2M398.7 172.7L403.3 177.4M398.7 177.4L403.3 172.7"/><path d="M403.8 164.7V171.1M400.6 167.9H407M401.5 165.6L406.1 170.2M401.5 170.2L406.1 165.6"/><path d="M406.6 157.6V164M403.4 160.8H409.8M404.3 158.5L408.9 163.1M404.3 163.1L408.9 158.5"/><path d="M409.3 150.3V156.7M406.1 153.5H412.5M407 151.2L411.6 155.8M407 155.8L411.6 151.2"/><path d="M412.1 142.9V149.3M408.9 146.1H415.3M409.8 143.8L414.4 148.4M409.8 148.4L414.4 143.8"/><path d="M414.9 135.6V142M411.7 138.8H418.1M412.6 136.5L417.2 141.1M412.6 141.1L417.2 136.5"/><path d="M417.7 128.2V134.6M414.5 131.4H420.9M415.4 129.1L420 133.7M415.4 133.7L420 129.1"/><path d="M420.4 120.5V126.9M417.2 123.7H423.6M418.1 121.4L422.7 126M418.1 126L422.7 121.4"/><path d="M423.2 111V117.4M420 114.2H426.4M420.9 111.9L425.5 116.5M420.9 116.5L425.5 111.9"/><path d="M426 102.6V109M422.8 105.8H429.2M423.7 103.5L428.3 108.1M423.7 108.1L428.3 103.5"/><path d="M428.7 96.5V102.9M425.5 99.7H431.9M426.4 97.4L431 102M426.4 102L431 97.4"/><path d="M431.5 90.4V96.8M428.3 93.6H434.7M429.2 91.3L433.8 95.9M429.2 95.9L433.8 91.3"/><path d="M434.3 85V91.4M431.1 88.2H437.5M432 85.9L436.6 90.5M432 90.5L436.6 85.9"/><path d="M437.1 81.6V88M433.9 84.8H440.3M434.8 82.5L439.4 87.1M434.8 87.1L439.4 82.5"/><path d="M439.8 78.1V84.5M436.6 81.3H443M437.5 79L442.1 83.6M437.5 83.6L442.1 79"/><path d="M442.6 75.1V81.5M439.4 78.3H445.8M440.3 76L444.9 80.6M440.3 80.6L444.9 76"/><path d="M445.4 72.5V78.9M442.2 75.7H448.6M443.1 73.4L447.7 78M443.1 78L447.7 73.4"/><path d="M448.1 69.9V76.3M444.9 73.1H451.3M445.8 70.8L450.5 75.4M445.8 75.4L450.5 70.8"/><path d="M450.9 66.9V73.3M447.7 70.1H454.1M448.6 67.8L453.2 72.4M448.6 72.4L453.2 67.8"/><path d="M453.7 63.5V69.9M450.5 66.7H456.9M451.4 64.4L456 69M451.4 69L456 64.4"/><path d="M456.5 60.3V66.7M453.3 63.5H459.7M454.2 61.2L458.8 65.8M454.2 65.8L458.8 61.2"/><path d="M459.2 58.8V65.2M456 62H462.4M456.9 59.7L461.5 64.3M456.9 64.3L461.5 59.7"/><path d="M462 57.4V63.8M458.8 60.6H465.2M459.7 58.3L464.3 62.9M459.7 62.9L464.3 58.3"/><path d="M464.8 56.7V63.1M461.6 59.9H468M462.5 57.6L467.1 62.2M462.5 62.2L467.1 57.6"/><path d="M467.6 56V62.4M464.4 59.2H470.8M465.3 56.9L469.9 61.5M465.3 61.5L469.9 56.9"/><path d="M470.3 57.1V63.5M467.1 60.3H473.5M468 58L472.6 62.6M468 62.6L472.6 58"/><path d="M473.1 58.4V64.8M469.9 61.6H476.3M470.8 59.3L475.4 64M470.8 64L475.4 59.3"/><path d="M475.9 60.1V66.5M472.7 63.3H479.1M473.6 61L478.2 65.6M473.6 65.6L478.2 61"/><path d="M478.6 62.2V68.6M475.4 65.4H481.8M476.3 63.1L480.9 67.7M476.3 67.7L480.9 63.1"/><path d="M481.4 64.3V70.7M478.2 67.5H484.6M479.1 65.2L483.7 69.8M479.1 69.8L483.7 65.2"/><path d="M484.2 64.6V71M481 67.8H487.4M481.9 65.5L486.5 70.1M481.9 70.1L486.5 65.5"/><path d="M487 62.9V69.3M483.8 66.1H490.2M484.7 63.8L489.3 68.4M484.7 68.4L489.3 63.8"/><path d="M489.7 61.2V67.6M486.5 64.4H492.9M487.4 62.1L492 66.7M487.4 66.7L492 62.1"/><path d="M492.5 60.1V66.5M489.3 63.3H495.7M490.2 61L494.8 65.6M490.2 65.6L494.8 61"/><path d="M495.3 59.1V65.5M492.1 62.3H498.5M493 60L497.6 64.6M493 64.6L497.6 60"/><path d="M498 58.3V64.7M494.8 61.5H501.2M495.7 59.1L500.4 63.8M495.7 63.8L500.4 59.1"/><path d="M500.8 59V65.4M497.6 62.2H504M498.5 59.9L503.1 64.5M498.5 64.5L503.1 59.9"/><path d="M503.6 59.4V65.8M500.4 62.6H506.8M501.3 60.3L505.9 64.9M501.3 64.9L505.9 60.3"/><path d="M506.4 60.6V67M503.2 63.8H509.6M504.1 61.5L508.7 66.1M504.1 66.1L508.7 61.5"/><path d="M509.1 61.9V68.3M505.9 65.1H512.3M506.8 62.8L511.4 67.4M506.8 67.4L511.4 62.8"/><path d="M511.9 63.3V69.7M508.7 66.5H515.1M509.6 64.2L514.2 68.8M509.6 68.8L514.2 64.2"/><path d="M514.7 64.9V71.3M511.5 68.1H517.9M512.4 65.8L517 70.4M512.4 70.4L517 65.8"/><path d="M517.5 67V73.4M514.3 70.2H520.7M515.2 67.8L519.8 72.5M515.2 72.5L519.8 67.8"/><path d="M520.2 69.8V76.2M517 73H523.4M517.9 70.7L522.5 75.3M517.9 75.3L522.5 70.7"/><path d="M523 72.8V79.2M519.8 76H526.2M520.7 73.7L525.3 78.3M520.7 78.3L525.3 73.7"/><path d="M525.8 75.8V82.2M522.6 79H529M523.5 76.7L528.1 81.3M523.5 81.3L528.1 76.7"/><path d="M528.5 78.7V85.1M525.3 81.9H531.7M526.2 79.6L530.8 84.2M526.2 84.2L530.8 79.6"/><path d="M531.3 81.7V88.1M528.1 84.9H534.5M529 82.6L533.6 87.2M529 87.2L533.6 82.6"/><path d="M534.1 86.4V92.8M530.9 89.6H537.3M531.8 87.3L536.4 91.9M531.8 91.9L536.4 87.3"/><path d="M536.9 91V97.4M533.7 94.2H540.1M534.6 91.9L539.2 96.5M534.6 96.5L539.2 91.9"/><path d="M539.6 95.3V101.7M536.4 98.5H542.8M537.3 96.2L541.9 100.8M537.3 100.8L541.9 96.2"/></g>
<polyline fill="none" stroke="#0ff00f" stroke-width="1" stroke-linejoin="round" points="323.4,97.6 326.2,108.6 328.9,117.4 331.7,123 334.5,129.3 337.3,136.7 340,144.7 342.8,152.6 345.6,161.4 348.3,168.6 351.1,176.2 353.9,187.8 356.7,195.9 359.4,202.1 362.2,211.9 365,222.9 367.8,233.2 370.5,246.6 373.3,248.5 376.1,260 378.8,253.1 381.6,241.4 384.4,229.6 387.2,219.9 389.9,210.2 392.7,200.2 395.5,190.1 398.2,180.8 401,173.6 403.8,166.4 406.6,159.1 409.3,151.8 412.1,144.3 414.9,136.9 417.7,129.4 420.4,121.6 423.2,111.9 426,103.4 428.7,97.1 431.5,90.8 434.3,85.2 437.1,81.6 439.8,78 442.6,74.8 445.4,72 448.1,69.3 450.9,66.1 453.7,62.7 456.5,59.5 459.2,58 462,56.6 464.8,55.9 467.6,55.2 470.3,56.3 473.1,57.6 475.9,59.3 478.6,61.4 481.4,63.5 484.2,63.8 487,62.1 489.7,60.4 492.5,59.3 495.3,58.3 498,57.5 500.8,58.5 503.6,59.5 506.4,61.2 509.1,63.1 511.9,65 514.7,67.1 517.5,69.2 520.2,72.1 523,75.1 525.8,78.2 528.5,81.1 531.3,84.1 534.1,88.9 536.9,93.5 539.6,97.8"/>
<g fill="none" stroke="#0ff00f" stroke-width="1.1"><path d="M323.4 92.9L326.9 99.9L319.9 99.9Z"/><path d="M326.2 104L329.7 111L322.7 111Z"/><path d="M328.9 112.7L332.4 119.7L325.4 119.7Z"/><path d="M331.7 118.3L335.2 125.3L328.2 125.3Z"/><path d="M334.5 124.6L338 131.6L331 131.6Z"/><path d="M337.3 132.1L340.8 139.1L333.8 139.1Z"/><path d="M340 140L343.5 147L336.5 147Z"/><path d="M342.8 147.9L346.3 154.9L339.3 154.9Z"/><path d="M345.6 156.8L349.1 163.8L342.1 163.8Z"/><path d="M348.3 163.9L351.8 170.9L344.8 170.9Z"/><path d="M351.1 171.5L354.6 178.5L347.6 178.5Z"/><path d="M353.9 183.1L357.4 190.1L350.4 190.1Z"/><path d="M356.7 191.3L360.2 198.3L353.2 198.3Z"/><path d="M359.4 197.4L362.9 204.4L355.9 204.4Z"/><path d="M362.2 207.2L365.7 214.2L358.7 214.2Z"/><path d="M365 218.3L368.5 225.3L361.5 225.3Z"/><path d="M367.8 228.6L371.3 235.6L364.3 235.6Z"/><path d="M370.5 241.9L374 248.9L367 248.9Z"/><path d="M373.3 243.8L376.8 250.8L369.8 250.8Z"/><path d="M376.1 255.4L379.6 262.4L372.6 262.4Z"/><path d="M378.8 248.4L382.3 255.4L375.3 255.4Z"/><path d="M381.6 236.8L385.1 243.8L378.1 243.8Z"/><path d="M384.4 225L387.9 232L380.9 232Z"/><path d="M387.2 215.3L390.7 222.3L383.7 222.3Z"/><path d="M389.9 205.6L393.4 212.6L386.4 212.6Z"/><path d="M392.7 195.5L396.2 202.5L389.2 202.5Z"/><path d="M395.5 185.5L399 192.5L392 192.5Z"/><path d="M398.2 176.2L401.7 183.2L394.7 183.2Z"/><path d="M401 168.9L404.5 175.9L397.5 175.9Z"/><path d="M403.8 161.7L407.3 168.7L400.3 168.7Z"/><path d="M406.6 154.5L410.1 161.5L403.1 161.5Z"/><path d="M409.3 147.1L412.8 154.1L405.8 154.1Z"/><path d="M412.1 139.7L415.6 146.7L408.6 146.7Z"/><path d="M414.9 132.2L418.4 139.2L411.4 139.2Z"/><path d="M417.7 124.8L421.2 131.8L414.2 131.8Z"/><path d="M420.4 116.9L423.9 123.9L416.9 123.9Z"/><path d="M423.2 107.2L426.7 114.2L419.7 114.2Z"/><path d="M426 98.7L429.5 105.7L422.5 105.7Z"/><path d="M428.7 92.4L432.2 99.4L425.2 99.4Z"/><path d="M431.5 86.2L435 93.2L428 93.2Z"/><path d="M434.3 80.5L437.8 87.5L430.8 87.5Z"/><path d="M437.1 77L440.6 84L433.6 84Z"/><path d="M439.8 73.4L443.3 80.4L436.3 80.4Z"/><path d="M442.6 70.1L446.1 77.1L439.1 77.1Z"/><path d="M445.4 67.4L448.9 74.4L441.9 74.4Z"/><path d="M448.1 64.6L451.6 71.6L444.6 71.6Z"/><path d="M450.9 61.4L454.4 68.4L447.4 68.4Z"/><path d="M453.7 58L457.2 65L450.2 65Z"/><path d="M456.5 54.8L460 61.8L453 61.8Z"/><path d="M459.2 53.4L462.7 60.4L455.7 60.4Z"/><path d="M462 51.9L465.5 58.9L458.5 58.9Z"/><path d="M464.8 51.2L468.3 58.2L461.3 58.2Z"/><path d="M467.6 50.5L471.1 57.5L464.1 57.5Z"/><path d="M470.3 51.6L473.8 58.6L466.8 58.6Z"/><path d="M473.1 53L476.6 60L469.6 60Z"/><path d="M475.9 54.6L479.4 61.6L472.4 61.6Z"/><path d="M478.6 56.7L482.1 63.7L475.1 63.7Z"/><path d="M481.4 58.8L484.9 65.8L477.9 65.8Z"/><path d="M484.2 59.1L487.7 66.1L480.7 66.1Z"/><path d="M487 57.4L490.5 64.4L483.5 64.4Z"/><path d="M489.7 55.7L493.2 62.7L486.2 62.7Z"/><path d="M492.5 54.6L496 61.6L489 61.6Z"/><path d="M495.3 53.7L498.8 60.7L491.8 60.7Z"/><path d="M498 52.8L501.5 59.8L494.5 59.8Z"/><path d="M500.8 53.8L504.3 60.8L497.3 60.8Z"/><path d="M503.6 54.8L507.1 61.8L500.1 61.8Z"/><path d="M506.4 56.5L509.9 63.5L502.9 63.5Z"/><path d="M509.1 58.4L512.6 65.4L505.6 65.4Z"/><path d="M511.9 60.3L515.4 67.3L508.4 67.3Z"/><path d="M514.7 62.4L518.2 69.4L511.2 69.4Z"/><path d="M517.5 64.5L521 71.5L514 71.5Z"/><path d="M520.2 67.4L523.7 74.4L516.7 74.4Z"/><path d="M523 70.5L526.5 77.5L519.5 77.5Z"/><path d="M525.8 73.5L529.3 80.5L522.3 80.5Z"/><path d="M528.5 76.4L532 83.4L525 83.4Z"/><path d="M531.3 79.5L534.8 86.5L527.8 86.5Z"/><path d="M534.1 84.2L537.6 91.2L530.6 91.2Z"/><path d="M536.9 88.8L540.4 95.8L533.4 95.8Z"/><path d="M539.6 93.1L543.1 100.1L536.1 100.1Z"/></g>
<polyline fill="none" stroke="#0000ff" stroke-width="1.05" stroke-linejoin="round" points="323.4,165.5 334,170.8 344.6,200.2 355.2,233.1 365.8,268.7 376.4,308.3 387.1,275.8 397.7,238.9 408.3,206.2 418.9,176.3 429.5,150.6 440.1,128.7 450.7,111.8 461.3,99.1 471.9,92.7 482.6,92.4 493.2,92 503.8,94.5 514.4,102.2 525,117.5 535.6,135"/>
<g fill="none" stroke="#0000ff" stroke-width="1.05"><circle cx="323.4" cy="165.5" r="3.15"/><circle cx="334" cy="170.8" r="3.15"/><circle cx="344.6" cy="200.2" r="3.15"/><circle cx="355.2" cy="233.1" r="3.15"/><circle cx="365.8" cy="268.7" r="3.15"/><circle cx="376.4" cy="308.3" r="3.15"/><circle cx="387.1" cy="275.8" r="3.15"/><circle cx="397.7" cy="238.9" r="3.15"/><circle cx="408.3" cy="206.2" r="3.15"/><circle cx="418.9" cy="176.3" r="3.15"/><circle cx="429.5" cy="150.6" r="3.15"/><circle cx="440.1" cy="128.7" r="3.15"/><circle cx="450.7" cy="111.8" r="3.15"/><circle cx="461.3" cy="99.1" r="3.15"/><circle cx="471.9" cy="92.7" r="3.15"/><circle cx="482.6" cy="92.4" r="3.15"/><circle cx="493.2" cy="92" r="3.15"/><circle cx="503.8" cy="94.5" r="3.15"/><circle cx="514.4" cy="102.2" r="3.15"/><circle cx="525" cy="117.5" r="3.15"/><circle cx="535.6" cy="135" r="3.15"/></g>
</g>
<g font-family="Liberation Sans, Arial, sans-serif" font-size="10.65" fill="#000">
<rect x="139.5" y="253.5" width="107" height="60" fill="#fff" stroke="#555" stroke-width="1"/>
<line x1="143.2" y1="262" x2="177.7" y2="262" stroke="#4a4a4a" stroke-width="1.25"/>
<circle cx="160.2" cy="262" r="3.4" fill="#000"/>
<text x="181.1" y="266.3" stroke="#000" stroke-width="0.3">Experimental</text>
<line x1="143.2" y1="276.2" x2="177.7" y2="276.2" stroke="#ffad40" stroke-width="1.25"/>
<g fill="none" stroke="#ff9f0a" stroke-width="1.1"><path d="M160.2 273V279.4M157 276.2H163.4M157.9 273.9L162.5 278.5M157.9 278.5L162.5 273.9"/></g>
<text x="181.1" y="280.5" stroke="#000" stroke-width="0.3">WEIS</text>
<line x1="143.2" y1="290.4" x2="177.7" y2="290.4" stroke="#40f040" stroke-width="1.25"/>
<g fill="none" stroke="#0ff00f" stroke-width="1.1"><path d="M160.2 285.7L164.2 293.1L156.2 293.1Z"/></g>
<text x="181.1" y="294.7" stroke="#000" stroke-width="0.3">BACMOW</text>
<line x1="143.2" y1="305.3" x2="177.7" y2="305.3" stroke="#5050ff" stroke-width="1.25"/>
<g fill="none" stroke="#0000ff" stroke-width="1.2"><circle cx="160.2" cy="305.3" r="3.5"/></g>
<text x="181.1" y="309.6" stroke="#000" stroke-width="0.3">CRAFTS</text>
</g>
<g font-family="Liberation Sans, Arial, sans-serif" font-size="10.65" fill="#000">
<rect x="422.5" y="253.5" width="107" height="60" fill="#fff" stroke="#555" stroke-width="1"/>
<line x1="426.1" y1="262.3" x2="460.8" y2="262.3" stroke="#4a4a4a" stroke-width="1.25"/>
<circle cx="443.6" cy="262.3" r="3.4" fill="#000"/>
<text x="463.9" y="266.6" stroke="#000" stroke-width="0.3">Experimental</text>
<line x1="426.1" y1="276.5" x2="460.8" y2="276.5" stroke="#ffad40" stroke-width="1.25"/>
<g fill="none" stroke="#ff9f0a" stroke-width="1.1"><path d="M443.6 273.3V279.7M440.4 276.5H446.8M441.3 274.2L445.9 278.8M441.3 278.8L445.9 274.2"/></g>
<text x="463.9" y="280.8" stroke="#000" stroke-width="0.3">WEIS</text>
<line x1="426.1" y1="290.4" x2="460.8" y2="290.4" stroke="#40f040" stroke-width="1.25"/>
<g fill="none" stroke="#0ff00f" stroke-width="1.1"><path d="M443.6 285.7L447.6 293.1L439.6 293.1Z"/></g>
<text x="463.9" y="294.7" stroke="#000" stroke-width="0.3">BACMOW</text>
<line x1="426.1" y1="305" x2="460.8" y2="305" stroke="#5050ff" stroke-width="1.25"/>
<g fill="none" stroke="#0000ff" stroke-width="1.2"><circle cx="443.6" cy="305" r="3.5"/></g>
<text x="463.9" y="309.3" stroke="#000" stroke-width="0.3">CRAFTS</text>
</g>
<g font-family="Liberation Sans, Arial, sans-serif" font-size="11" fill="#262626" stroke="#262626" stroke-width="0.3">
<text x="41.2" y="340.1" text-anchor="middle">0</text>
<text x="83.5" y="340.1" text-anchor="middle">200</text>
<text x="125.8" y="340.1" text-anchor="middle">400</text>
<text x="168.2" y="340.1" text-anchor="middle">600</text>
<text x="210.5" y="340.1" text-anchor="middle">800</text>
<text x="252.8" y="340.1" text-anchor="middle">1000</text>
<text x="35" y="328.1" text-anchor="end">1.6</text>
<text x="35" y="287.8" text-anchor="end">1.8</text>
<text x="35" y="247.6" text-anchor="end">2</text>
<text x="35" y="207.4" text-anchor="end">2.2</text>
<text x="35" y="167.2" text-anchor="end">2.4</text>
<text x="35" y="126.9" text-anchor="end">2.6</text>
<text x="35" y="86.7" text-anchor="end">2.8</text>
<text x="35" y="46.5" text-anchor="end">3</text>
<text x="323.4" y="340.1" text-anchor="middle">0</text>
<text x="365.8" y="340.1" text-anchor="middle">200</text>
<text x="408.3" y="340.1" text-anchor="middle">400</text>
<text x="450.7" y="340.1" text-anchor="middle">600</text>
<text x="493.2" y="340.1" text-anchor="middle">800</text>
<text x="535.6" y="340.1" text-anchor="middle">1000</text>
<text x="317.2" y="328.1" text-anchor="end">0.8</text>
<text x="317.2" y="287.8" text-anchor="end">1</text>
<text x="317.2" y="247.6" text-anchor="end">1.2</text>
<text x="317.2" y="207.4" text-anchor="end">1.4</text>
<text x="317.2" y="167.2" text-anchor="end">1.6</text>
<text x="317.2" y="126.9" text-anchor="end">1.8</text>
<text x="317.2" y="86.7" text-anchor="end">2</text>
<text x="317.2" y="46.5" text-anchor="end">2.2</text>
</g>
<g font-family="Liberation Sans, Arial, sans-serif" font-size="10.4" fill="#000"></g>
<g font-family="Liberation Sans, Arial, sans-serif" fill="#262626" stroke="#262626" stroke-width="0.3">
<text x="42" y="40.5" font-size="13.5">&#215;</text>
<text x="51.3" y="39.4" font-size="11.4">10</text>
<text x="64.4" y="33.2" font-size="8.7">6</text>
<text x="323.5" y="40.5" font-size="13.5">&#215;</text>
<text x="332.8" y="39.4" font-size="11.4">10</text>
<text x="345.9" y="33.2" font-size="8.7">7</text>
<text x="148.4" y="35.9" font-size="13" font-weight="bold" text-anchor="middle" fill="#000" stroke="none">Thrust</text>
<text x="430.5" y="35.9" font-size="13" font-weight="bold" text-anchor="middle" fill="#000" stroke="none">Torque</text>
<text x="147.7" y="357.6" font-size="12.8" text-anchor="middle">Time (sec)</text>
<text x="430.5" y="357.6" font-size="12.8" text-anchor="middle">Time (sec)</text>
<text transform="translate(12.5,182.7) rotate(-90)" font-size="12.9" text-anchor="middle">Thrust (N)</text>
<text transform="translate(294.4,183.4) rotate(-90)" font-size="12.9" text-anchor="middle">Torque (Nm)</text>
</g>
<text x="278.4" y="13.8" font-family="Liberation Sans, Arial, sans-serif" font-size="15.6" text-anchor="middle" textLength="346.5" lengthAdjust="spacingAndGlyphs" fill="#000" stroke="#000" stroke-width="0.12">LC 2.4: wind speed = 12.83 m/s, rotor speed = 7.56</text>
<text x="273.9" y="378.9" font-family="Liberation Serif, Times New Roman, serif" font-size="17.2" text-anchor="middle" fill="#000">(<tspan font-weight="bold">b</tspan>)</text>
</svg>
</body></html>
